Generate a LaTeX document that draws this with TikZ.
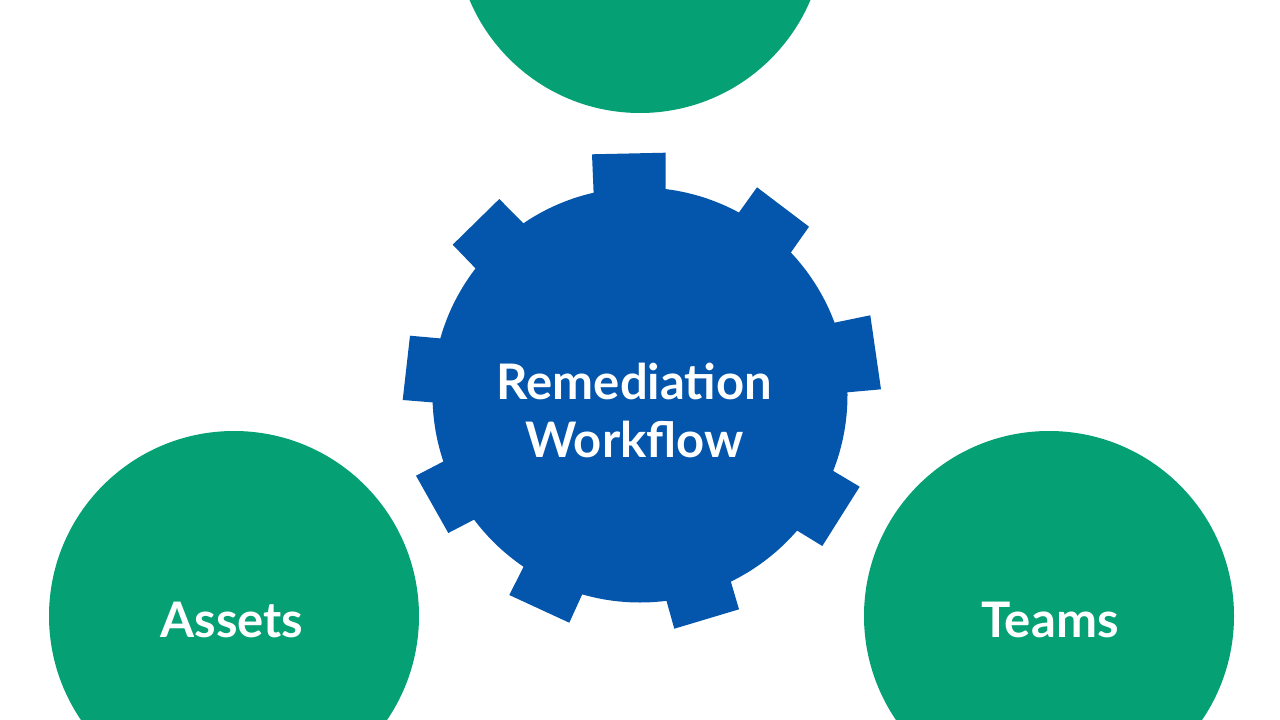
\documentclass[tikz,border=0pt]{standalone}
\usepackage{fontspec}
\setmainfont{Lato}
\usetikzlibrary{backgrounds}
\definecolor{hubblue}{RGB}{4,85,172}
\definecolor{leafgreen}{RGB}{5,160,116}
\definecolor{linkgray}{RGB}{153,155,155}
\tikzset{
  x=1pt,y=-1pt,
  hub/.style={circle,fill=hubblue,minimum size=415pt,inner sep=0pt},
  tooth/.style={fill=hubblue},
  leaf/.style={circle,fill=leafgreen,minimum size=370pt,inner sep=0pt},
  txt/.style={text=white,font=\bfseries\fontsize{49}{58}\selectfont,align=center,inner sep=0pt},
  link/.style={draw=linkgray,line width=17pt},
}
\begin{document}
\begin{tikzpicture}
\useasboundingbox (0,0) rectangle (1280,720);
\fill[white] (0,0) rectangle (1280,720);
\clip (0,0) rectangle (1280,720);
\node[hub] (gear) at (640,395) {};
\node[leaf] (top) at (640,-72) {};
\node[leaf] (assets) at (234,616) {};
\node[leaf] (teams) at (1049,616) {};
\node[txt] (gearlabel) at (634.5,410) {Remediation\\Workflow};
\node[txt] (assetslabel) at (232,620) {Assets};
\node[txt] (teamslabel) at (1050,620) {Teams};
\begin{pgfonlayer}{background}
\draw[link,line width=19pt] (top) -- (gear);
\draw[link] (assets) -- (gear);
\draw[link] (teams) -- (gear);
\end{pgfonlayer}
\fill[tooth] (592,154.3) -- (665.7,152.7) -- (665.7,195) -- (593.7,195) -- cycle;
\fill[tooth] (735,218) -- (757,187.3) -- (809,226.7) -- (787,258) -- cycle;
\fill[tooth] (828,324) -- (870.3,315.3) -- (881,389.3) -- (840,393) -- cycle;
\fill[tooth] (825,466) -- (859.7,486.7) -- (822.3,546) -- (788,525) -- cycle;
\fill[tooth] (728,572) -- (739,609.3) -- (674.3,628.7) -- (664,592) -- cycle;
\fill[tooth] (586,586) -- (569.3,622.7) -- (509.3,595) -- (528,558) -- cycle;
\fill[tooth] (481,516) -- (448.3,533) -- (416,475.7) -- (450,458) -- cycle;
\fill[tooth] (440,403) -- (402.7,400) -- (410,335.7) -- (447,339) -- cycle;
\fill[tooth] (479,272) -- (452.7,244.7) -- (499.3,199) -- (526,226) -- cycle;
\end{tikzpicture}
\end{document}
